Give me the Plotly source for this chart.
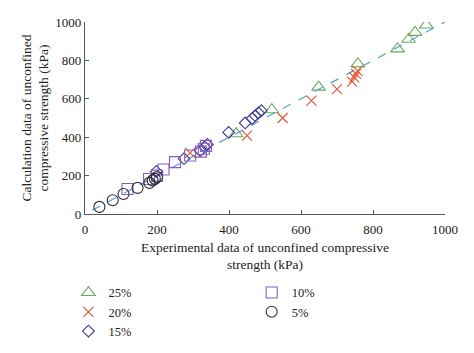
import plotly.graph_objects as go

# Data (kPa)
x25 = [420, 519, 649, 758, 868, 899, 917, 948]
y25 = [418, 543, 661, 782, 860, 910, 946, 984]

x20 = [292, 450, 549, 629, 700, 742, 748, 753, 757]
y20 = [318, 408, 500, 591, 650, 690, 712, 730, 745]

x15 = [198, 275, 320, 332, 340, 399, 445, 464, 473, 482, 490]
y15 = [222, 288, 330, 350, 362, 425, 474, 497, 512, 527, 538]

x10 = [118, 178, 200, 218, 250, 292, 322, 330, 336]
y10 = [130, 182, 200, 232, 270, 305, 325, 340, 355]

x5 = [40, 77, 107, 146, 179, 188, 194, 200]
y5 = [37, 72, 104, 136, 162, 175, 183, 192]

line_x = [20, 1000]
line_y = [20, 1000]

FONT = "Liberation Serif"

fig = go.Figure()

fig.add_trace(go.Scatter(x=line_x, y=line_y, mode="lines",
                         line=dict(color="#4aa3d6", width=1.2, dash="dash"),
                         showlegend=False, hoverinfo="skip"))

series = [
    ("25%", x25, y25, "triangle-up-open", "#6aab5c", 12, "legend"),
    ("20%", x20, y20, "x-thin-open", "#e0532e", 10, "legend"),
    ("15%", x15, y15, "diamond-open", "#3b3a94", 9, "legend"),
    ("10%", x10, y10, "square-open", "#8a5cc0", 11, "legend2"),
    ("5%", x5, y5, "circle-open", "#2b2b3c", 11, "legend2"),
]
for name, xs, ys, sym, col, sz, lg in series:
    fig.add_trace(go.Scatter(x=xs, y=ys, mode="markers", name=name,
                             marker=dict(symbol=sym, size=sz, color=col,
                                         line=dict(color=col, width=1.1)),
                             legend=lg))

axis_common = dict(range=[0, 1000], tickvals=[0, 200, 400, 600, 800, 1000],
                   showline=True, linecolor="#555555", linewidth=1.2,
                   ticks="inside", ticklen=4, tickcolor="#555555",
                   showgrid=False, zeroline=False, automargin=False,
                   tickfont=dict(family=FONT, size=13, color="#222222"),
                   title_font=dict(family=FONT, size=13.5, color="#222222"))

legend_common = dict(orientation="v", bgcolor="rgba(0,0,0,0)",
                     xref="paper", yref="container",
                     xanchor="left", yanchor="bottom", tracegroupgap=0,
                     font=dict(family=FONT, size=12.5, color="#222222"))

fig.update_layout(
    width=474, height=353,
    margin=dict(l=85, r=29, t=22, b=139),
    paper_bgcolor="white", plot_bgcolor="white",
    font=dict(family=FONT, size=13, color="#222222"),
    xaxis=dict(axis_common, ticklabelstandoff=3,
               title=dict(text="Experimental data of unconfined compressive<br>strength (kPa)",
                          standoff=6)),
    yaxis=dict(axis_common,
               title=dict(text="Calculation data of unconfined<br>compressive strength (kPa)",
                          standoff=3)),
    legend=dict(legend_common, x=-0.046, y=0.020),
    legend2=dict(legend_common, x=0.463, y=0.020 + 0.054),
)

fig.write_html("out.html")
